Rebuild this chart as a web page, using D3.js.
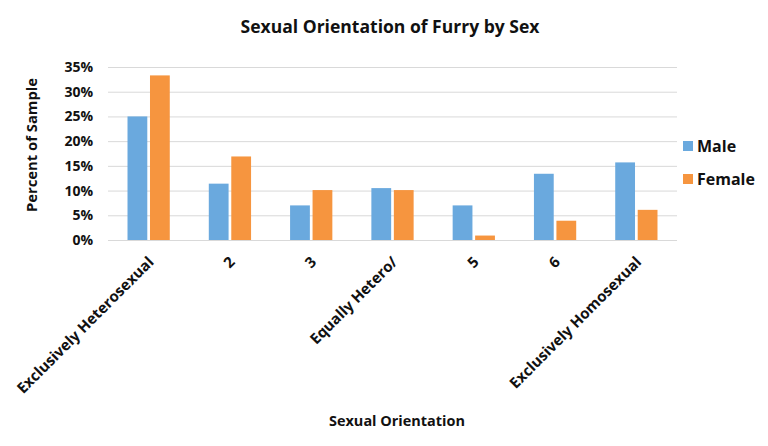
<!DOCTYPE html>
<html>
<head>
<meta charset="utf-8">
<script src="https://cdn.jsdelivr.net/npm/d3@7"></script>
<style>
  body { margin: 0; background: #fff; }
  svg { font-family: "Open Sans", "DejaVu Sans", sans-serif; }
  .grid line { stroke: #d9d9d9; stroke-width: 1; }
  .grid path { display: none; }
  .ytick text { font-size: 14px; font-weight: bold; fill: #111; }
  .xtick text { font-size: 15px; font-weight: bold; fill: #111; }
</style>
</head>
<body>
<div id="chart"></div>
<script>
(function(){

// categories on the x axis
var categories = ["Exclusively Heterosexual", "2", "3", "Equally Hetero/", "5", "6", "Exclusively Homosexual"];
// series names
var series = ["Male", "Female"];
// percent of sample
var maleValues = [25.0, 11.4, 7.0, 10.5, 7.0, 13.4, 15.7];
var femaleValues = [33.3, 16.9, 10.1, 10.1, 0.9, 3.9, 6.1];
// y ticks
var yTicks = [0, 5, 10, 15, 20, 25, 30, 35];

var colors = {Male: "#6aa9de", Female: "#f6953f"};

var width = 768, height = 446;
var margin = {left: 108, right: 91, top: 67, bottom: 206};

var svg = d3.select("#chart")
    .append("svg")
    .attr("width", width)
    .attr("height", height);

var x0 = d3.scaleBand()
    .domain(categories)
    .range([margin.left, width - margin.right])
    .paddingInner(0.48)
    .paddingOuter(0.24);

var x1 = d3.scaleBand()
    .domain(series)
    .range([0, x0.bandwidth()])
    .paddingInner(0.12);

var y = d3.scaleLinear()
    .domain([0, 35])
    .range([height - margin.bottom, margin.top]);

//gridlines
svg.append("g")
    .attr("class", "grid")
    .attr("transform", "translate(" + margin.left + ",0)")
    .call(d3.axisLeft(y).tickValues(yTicks).tickSize(-(width - margin.left - margin.right)).tickFormat(""));

//y tick labels
svg.append("g")
    .attr("class", "ytick")
    .selectAll("text")
    .data(yTicks)
    .enter()
    .append("text")
    .attr("x", 93)
    .attr("y", function(d){ return y(d) + 5; })
    .attr("text-anchor", "end")
    .text(function(d){ return d + "%"; });

//bars
var rows = categories.map(function(c, i){
    return {cat: c, Male: maleValues[i], Female: femaleValues[i]};
});

var groups = svg.selectAll(".grp")
    .data(rows)
    .enter()
    .append("g")
    .attr("class", "grp")
    .attr("transform", function(d){ return "translate(" + x0(d.cat) + ",0)"; });

groups.selectAll("rect")
    .data(function(d){ return series.map(function(s){ return {key: s, value: d[s]}; }); })
    .enter()
    .append("rect")
    .attr("x", function(d){ return x1(d.key); })
    .attr("y", function(d){ return y(d.value); })
    .attr("width", x1.bandwidth())
    .attr("height", function(d){ return y(0) - y(d.value); })
    .attr("fill", function(d){ return colors[d.key]; });

//x labels, rotated
svg.append("g")
    .attr("class", "xtick")
    .selectAll("text")
    .data(categories)
    .enter()
    .append("text")
    .attr("text-anchor", "end")
    .attr("transform", function(d){
        var cx = x0(d) + x0.bandwidth() / 2 + 6;
        return "translate(" + cx + ",263) rotate(-45)";
    })
    .text(function(d){ return d; });

//title
svg.append("text")
    .attr("x", 390)
    .attr("y", 33)
    .attr("text-anchor", "middle")
    .attr("font-size", 18)
    .attr("font-weight", "bold")
    .attr("fill", "#111")
    .attr("textLength", 299)
    .attr("lengthAdjust", "spacingAndGlyphs")
    .text("Sexual Orientation of Furry by Sex");

//axis titles
svg.append("text")
    .attr("x", 397)
    .attr("y", 426)
    .attr("text-anchor", "middle")
    .attr("font-size", 15)
    .attr("font-weight", "bold")
    .attr("fill", "#111")
    .attr("textLength", 136)
    .attr("lengthAdjust", "spacingAndGlyphs")
    .text("Sexual Orientation");

svg.append("text")
    .attr("transform", "translate(37,145) rotate(-90)")
    .attr("text-anchor", "middle")
    .attr("font-size", 15)
    .attr("font-weight", "bold")
    .attr("fill", "#111")
    .attr("textLength", 134)
    .attr("lengthAdjust", "spacingAndGlyphs")
    .text("Percent of Sample");

//legend
var legend = svg.selectAll(".legend")
    .data(series)
    .enter()
    .append("g")
    .attr("class", "legend")
    .attr("transform", function(d, i){ return "translate(683," + (141 + i * 33) + ")"; });

legend.append("rect")
    .attr("width", 10)
    .attr("height", 10)
    .attr("fill", function(d){ return colors[d]; });

legend.append("text")
    .attr("x", 14)
    .attr("y", 11)
    .attr("font-size", 16)
    .attr("font-weight", "bold")
    .attr("fill", "#111")
    .text(function(d){ return d; });

})();
</script>
</body>
</html>
